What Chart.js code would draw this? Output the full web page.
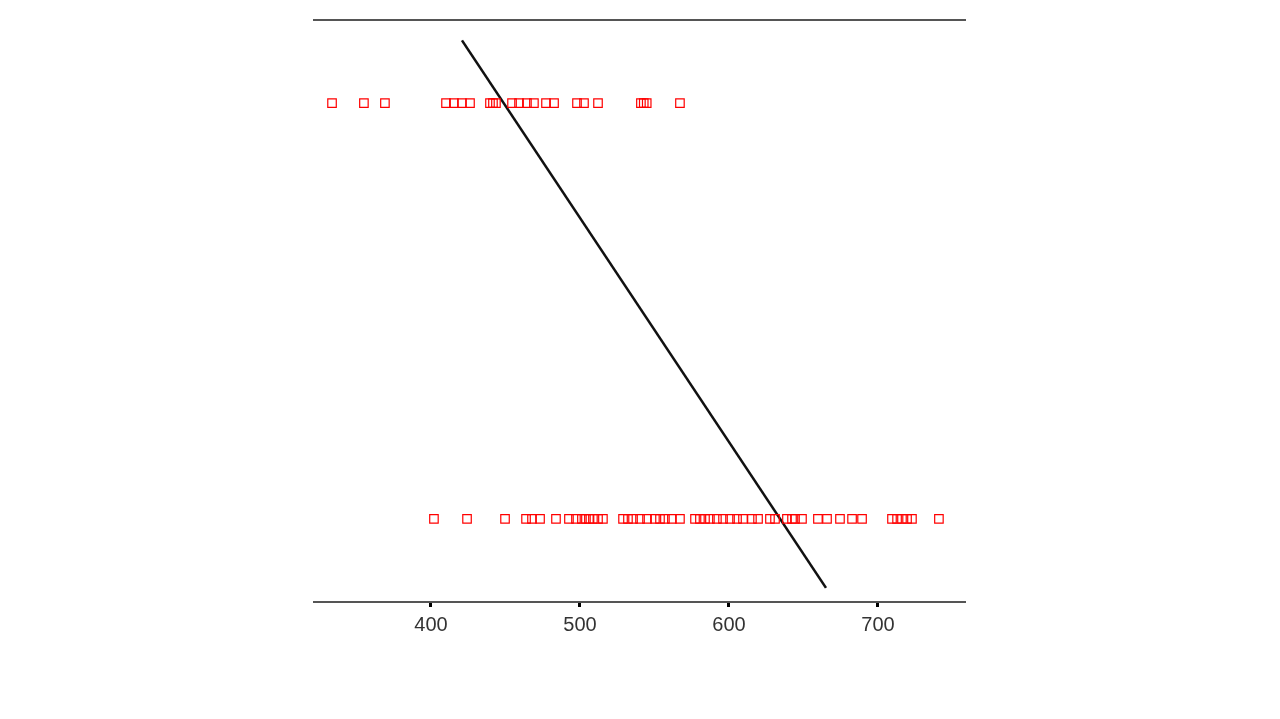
<!DOCTYPE html>
<html>
<head>
<meta charset="utf-8">
<script src="https://cdn.jsdelivr.net/npm/chart.js@4/dist/chart.umd.min.js"></script>
<style>
html,body{margin:0;padding:0;background:#fff;}
#wrap{width:1280px;height:719px;}
</style>
</head>
<body>
<div id="wrap"><canvas id="c" width="1280" height="719"></canvas></div>
<script>
const xTicks = [400, 500, 600, 700];
const topX = [333.6, 355.0, 369.1, 410.1, 415.4, 420.8, 426.2, 439.6, 441.6, 443.6, 454.4, 459.1, 464.4, 469.1, 477.2, 482.6, 498.0, 502.7, 512.1, 540.9, 542.8, 544.8, 567.1];
const bottomX = [402.0, 424.2, 449.7, 463.8, 467.8, 473.2, 483.9, 492.6, 497.3, 501.3, 504.0, 506.0, 508.7, 512.1, 515.4, 528.9, 532.2, 535.6, 540.3, 545.0, 550.3, 553.7, 557.0, 561.7, 567.1, 577.2, 580.5, 583.9, 587.2, 591.9, 596.0, 600.7, 605.4, 609.4, 615.4, 619.5, 627.5, 630.9, 638.9, 642.3, 644.3, 649.0, 659.7, 665.8, 674.5, 682.6, 689.3, 709.4, 712.8, 716.1, 719.5, 722.8, 740.9];
const topY = 1;
const bottomY = 0;
const lineX = [420.8, 665.1];
const lineY = [1.151, -0.166];

const pts = topX.map(x => ({x, y: topY})).concat(bottomX.map(x => ({x, y: bottomY})));
const linePts = lineX.map((x, i) => ({x, y: lineY[i]}));

new Chart(document.getElementById('c'), {
  data: {
    datasets: [
      {
        type: 'scatter',
        data: pts,
        pointStyle: 'rect',
        pointRadius: 6,
        pointHoverRadius: 6,
        borderColor: '#ff0000',
        backgroundColor: 'rgba(0,0,0,0)',
        pointBorderWidth: 1.2
      },
      {
        type: 'line',
        data: linePts,
        borderColor: '#111',
        borderWidth: 2.6,
        pointRadius: 0,
        fill: false
      }
    ]
  },
  options: {
    responsive: false,
    animation: false,
    events: [],
    layout: { padding: { left: 314, right: 315, top: 20, bottom: 76 } },
    plugins: { legend: { display: false }, tooltip: { enabled: false } },
    scales: {
      x: {
        type: 'linear',
        position: 'bottom',
        min: 321.5,
        max: 758.4,
        afterBuildTicks: (axis) => { axis.ticks = xTicks.map(v => ({value: v})); },
        ticks: {
          color: '#333',
          font: { family: '"Liberation Sans", Arial, sans-serif', size: 20 },
          padding: 6,
          maxRotation: 0
        },
        grid: {
          drawOnChartArea: false,
          drawTicks: true,
          tickLength: 5,
          tickWidth: 3,
          tickColor: '#000'
        },
        border: { display: true, color: '#555', width: 2 }
      },
      x2: {
        type: 'linear',
        position: 'top',
        min: 321.5,
        max: 758.4,
        ticks: { display: false },
        grid: { drawOnChartArea: false, drawTicks: false },
        border: { display: true, color: '#555', width: 2 }
      },
      y: {
        display: false,
        min: -0.2,
        max: 1.2
      }
    }
  }
});
</script>
</body>
</html>
